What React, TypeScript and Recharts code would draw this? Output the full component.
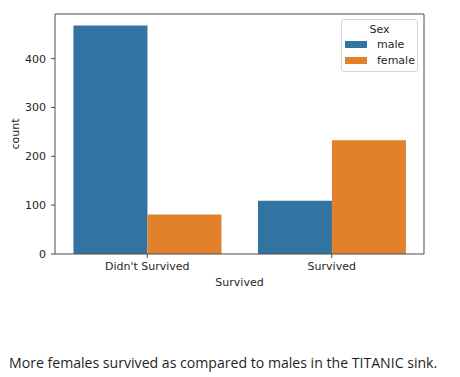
import { BarChart, Bar, XAxis, YAxis, Legend } from 'recharts';

const categories = ["Didn't Survived", 'Survived'];
const maleCounts = [468, 109];
const femaleCounts = [81, 233];
const countTicks = [0, 100, 200, 300, 400];
const sexOrder = ['male', 'female'];

const MALE = '#3274a1';
const FEMALE = '#e1812c';
const AXIS = '#4d4d4d';
const TEXT = '#262626';

const data = categories.map((c, i) => ({
  survived: c,
  male: maleCounts[i],
  female: femaleCounts[i]
}));

const tickStyle = { fill: TEXT, fontSize: 11, fontFamily: 'DejaVu Sans' };

function SexLegend({ payload }: { payload?: Array<{ value: string; color: string }> }) {
  // keep hue order like seaborn, not alphabetical
  const items = [...(payload ?? [])].sort((a, b) => sexOrder.indexOf(a.value) - sexOrder.indexOf(b.value));
  return (
    <div
      style={{
        width: 77,
        height: 53,
        boxSizing: 'border-box',
        border: '1px solid #d6d6d6',
        borderRadius: 3,
        background: 'rgba(255,255,255,0.8)',
        fontFamily: 'DejaVu Sans',
        fontSize: 11,
        color: TEXT,
        padding: '3px 0 0 3px'
      }}
    >
      <div style={{ textAlign: 'center', lineHeight: '13px', paddingRight: 3 }}>Sex</div>
      {items.map(p => (
        <div key={p.value} style={{ display: 'flex', alignItems: 'center', height: 16.5 }}>
          <span style={{ display: 'inline-block', width: 22, height: 7, background: p.color, marginRight: 10 }} />
          <span>{p.value}</span>
        </div>
      ))}
    </div>
  );
}

export default function App() {
  return (
    <div style={{ position: 'fixed', left: 0, top: 0, width: 460, height: 377, background: '#fff' }}>
      <BarChart
        width={460}
        height={300}
        data={data}
        margin={{ top: 13, right: 35, left: 10, bottom: 0 }}
        barCategoryGap="10%"
        barGap={0}
      >
        <XAxis
          dataKey="survived"
          height={46}
          tick={tickStyle}
          tickSize={4}
          tickMargin={4}
          axisLine={{ stroke: AXIS }}
          tickLine={{ stroke: AXIS }}
          label={{ value: 'Survived', position: 'insideBottom', offset: 14, fill: TEXT, fontSize: 11, fontFamily: 'DejaVu Sans' }}
        />
        <XAxis xAxisId="top" dataKey="survived" orientation="top" height={1} tick={false} tickLine={false} axisLine={{ stroke: AXIS }} />
        <YAxis
          width={45}
          domain={[0, 491.4]}
          ticks={countTicks}
          tick={tickStyle}
          tickSize={4}
          tickMargin={5}
          axisLine={{ stroke: AXIS }}
          tickLine={{ stroke: AXIS }}
          label={{
            value: 'count',
            angle: -90,
            position: 'insideLeft',
            offset: 5,
            fill: TEXT,
            fontSize: 11,
            fontFamily: 'DejaVu Sans',
            style: { textAnchor: 'middle' }
          }}
        />
        <YAxis yAxisId="right" orientation="right" width={1} domain={[0, 491.4]} tick={false} tickLine={false} axisLine={{ stroke: AXIS }} />
        <Legend
          verticalAlign="middle"
          align="center"
          layout="horizontal"
          content={<SexLegend />}
          wrapperStyle={{ top: 19, left: 341, width: 77 }}
        />
        <Bar dataKey="male" name="male" fill={MALE} isAnimationActive={false} />
        <Bar dataKey="female" name="female" fill={FEMALE} isAnimationActive={false} />
      </BarChart>
      <div
        style={{
          position: 'absolute',
          left: 9,
          top: 353,
          fontFamily: 'Open Sans',
          fontSize: 14.1,
          color: '#1f1f1f',
          whiteSpace: 'nowrap',
          lineHeight: '20px'
        }}
      >
        More females survived as compared to males in the TITANIC sink.
      </div>
    </div>
  );
}
